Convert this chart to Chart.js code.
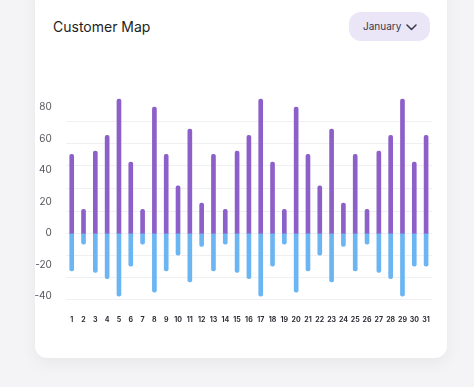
<!DOCTYPE html>
<html>
<head>
<meta charset="utf-8">
<script src="https://cdn.jsdelivr.net/npm/chart.js@4.4.1/dist/chart.umd.min.js"></script>
<style>
  html, body { margin: 0; padding: 0; }
  body { width: 474px; height: 387px; background: #f4f4f6; position: relative; overflow: hidden; font-family: 'Inter', 'Noto Sans', sans-serif; }
  .card { position: absolute; left: 35px; top: -20px; width: 412px; height: 378px; background: #fff; border-radius: 12px; box-shadow: 0 6px 16px rgba(0,0,0,0.05); }
  .titulo { position: absolute; left: 53px; top: 18px; font-size: 14px; font-weight: 400; color: #1e1e24; }
  .selector { position: absolute; left: 349px; top: 12px; width: 81px; height: 29px; background: #ebe5f8; border-radius: 12px; }
  .selector span { position: absolute; left: 14px; top: 8px; font-size: 10px; color: #3a3a48; }
  .selector svg { position: absolute; left: 57px; top: 12px; }
  .grafica { position: absolute; left: 35px; top: 80px; }
</style>
</head>
<body>
<div class="card"></div>
<div class="titulo">Customer Map</div>
<div class="selector"><span>January</span>
  <svg width="11" height="7" viewBox="0 0 11 7"><polyline points="1,1 5.5,5.5 10,1" fill="none" stroke="#3a3a48" stroke-width="1.5" stroke-linecap="round" stroke-linejoin="round"/></svg>
</div>
<div class="grafica"><canvas id="graficaClientes" width="412" height="260"></canvas></div>
<script>
// Datos del gráfico
const dias = ['1','2','3','4','5','6','7','8','9','10','11','12','13','14','15','16',
  '17','18','19','20','21','22','23','24','25','26','27','28','29','30','31'];
const entradas = [50, 15, 52, 62, 85, 45, 15, 80, 50, 30, 66, 19, 50, 15, 52, 62,
  85, 45, 15, 80, 50, 30, 66, 19, 50, 15, 52, 62, 85, 45, 62];
const salidas = [-24, -7, -25, -29, -40, -21, -7, -37.5, -24, -14, -31, -8.5, -24, -7, -25, -29,
  -40, -21, -7, -37.5, -24, -14, -31, -8.5, -24, -7, -25, -29, -40, -21, -21];
const marcasY = [80, 60, 40, 20, 0, -20, -40];
const lineasGuia = [71, 57, 43, 28, 14, 0, -14, -28, -42];

const ctx = document.getElementById('graficaClientes').getContext('2d');
new Chart(ctx, {
  type: 'bar',
  data: {
    labels: dias,
    datasets: [
      {
        label: 'Entradas',
        data: entradas,
        backgroundColor: '#8c5fc9',
        barThickness: 4,
        borderRadius: 2
      },
      {
        label: 'Salidas',
        data: salidas,
        backgroundColor: '#6cb5f3',
        barThickness: 4,
        borderRadius: 2
      }
    ]
  },
  options: {
    responsive: false,
    animation: false,
    layout: { padding: { left: 0, right: 15, top: 16, bottom: 0 } },
    plugins: { legend: { display: false }, tooltip: { enabled: false } },
    scales: {
      x: {
        stacked: true,
        grid: { display: false },
        border: { display: false },
        ticks: {
          color: '#2e2e36',
          font: { family: 'Inter', size: 7, weight: '700' },
          padding: 4,
          maxRotation: 0,
          autoSkip: false
        },
        afterFit: (escala) => { escala.height = 36; }
      },
      y: {
        stacked: true,
        min: -45,
        max: 87,
        grid: { display: false },
        border: { display: false },
        ticks: {
          color: '#55555e',
          font: { family: 'Inter', size: 10 },
          padding: 6
        },
        afterBuildTicks: (escala) => { escala.ticks = marcasY.map(v => ({ value: v })); },
        afterFit: (escala) => { escala.width = 30.8; }
      },
      y2: {
        position: 'left',
        min: -45,
        max: 87,
        grid: { color: '#f0f0f3', drawTicks: false },
        border: { display: false },
        ticks: { display: false },
        afterBuildTicks: (escala) => { escala.ticks = lineasGuia.map(v => ({ value: v })); },
        afterFit: (escala) => { escala.width = 0; }
      }
    }
  }
});
</script>
</body>
</html>
